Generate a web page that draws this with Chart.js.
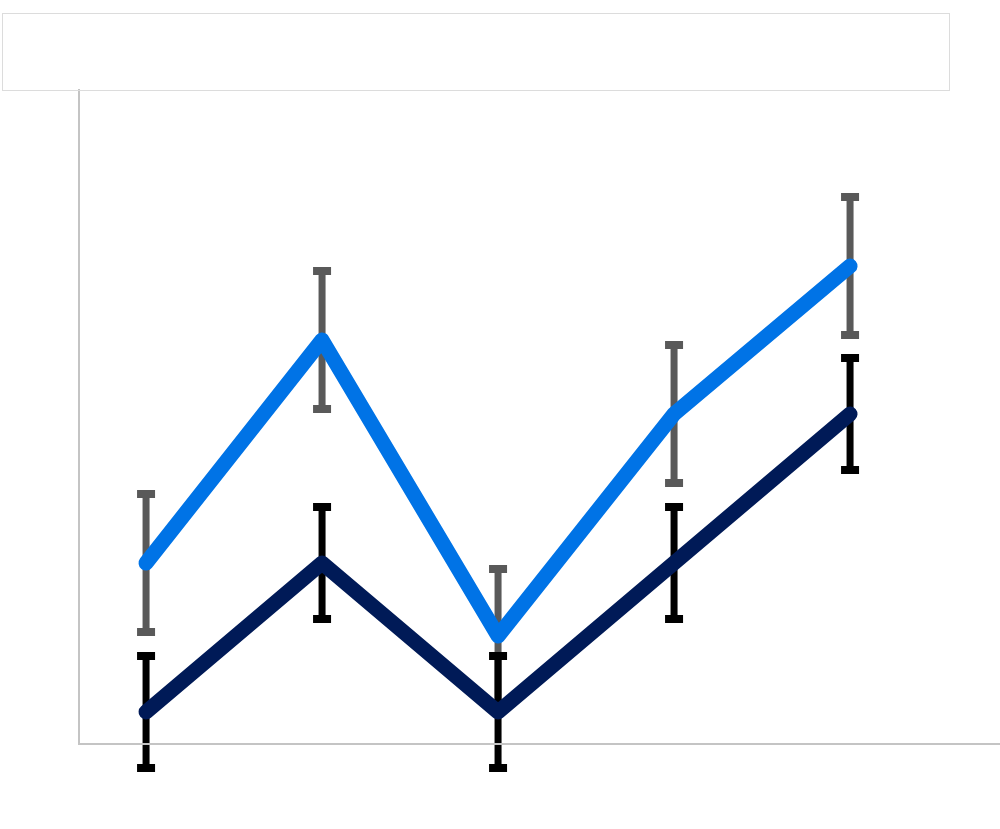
<!DOCTYPE html>
<html>
<head>
<meta charset="utf-8">
<script src="https://cdn.jsdelivr.net/npm/chart.js@4.4.1/dist/chart.umd.min.js"></script>
<style>
    body { margin: 0; background: #fff; }
    #wrap { position: relative; width: 1000px; height: 829px; }
    #titleBox {
        position: absolute;
        left: 2px; top: 13px;
        width: 948px; height: 78px;
        border: 1px solid #dcdcdc;
        box-sizing: border-box;
    }
</style>
</head>
<body>
<div id="wrap">
    <canvas id="chart" width="1000" height="829"></canvas>
    <div id="titleBox"></div>
</div>
<script>
// Data (arbitrary units, no tick labels shown)
const categories = ['1', '2', '3', '4', '5'];
const upperValues = [18.1, 40.4, 10.8, 33.0, 47.8];
const upperErrors = [6.9, 6.9, 6.7, 6.9, 6.9];
const lowerValues = [3.2, 18.1, 3.2, 18.1, 33.0];
const lowerErrors = [5.6, 5.6, 5.6, 5.6, 5.6];

function toPoints(values) {
    return values.map((v, i) => ({ x: i, y: v }));
}

// Error bars drawn before the axes so the axis line sits over them
const errorBars = {
    id: 'errorBars',
    beforeDraw(chart) {
        const ctx = chart.ctx;
        const xs = chart.scales.x;
        const ys = chart.scales.y;
        const sets = [
            { values: upperValues, errors: upperErrors, color: '#595959' },
            { values: lowerValues, errors: lowerErrors, color: '#000000' }
        ];
        ctx.save();
        sets.forEach(s => {
            ctx.fillStyle = s.color;
            s.values.forEach((v, i) => {
                const px = xs.getPixelForValue(i);
                const top = ys.getPixelForValue(v + s.errors[i]);
                const bot = ys.getPixelForValue(v - s.errors[i]);
                ctx.fillRect(px - 3.5, top, 7, bot - top);
                ctx.fillRect(px - 9, top - 4, 18, 8);
                ctx.fillRect(px - 9, bot - 4, 18, 8);
            });
        });
        ctx.restore();
    }
};

document.addEventListener('DOMContentLoaded', function() {
    new Chart(document.getElementById('chart'), {
        type: 'line',
        data: {
            labels: categories,
            datasets: [
                {
                    label: 'Lower',
                    data: toPoints(lowerValues),
                    borderColor: '#001a57',
                    borderWidth: 15,
                    borderCapStyle: 'round',
                    borderJoinStyle: 'round',
                    pointRadius: 0,
                    fill: false,
                    clip: false
                },
                {
                    label: 'Upper',
                    data: toPoints(upperValues),
                    borderColor: '#0073e6',
                    borderWidth: 15,
                    borderCapStyle: 'round',
                    borderJoinStyle: 'round',
                    pointRadius: 0,
                    fill: false,
                    clip: false
                }
            ]
        },
        options: {
            responsive: false,
            animation: false,
            layout: {
                padding: { left: 71, top: 90, right: 0, bottom: 77 }
            },
            plugins: {
                legend: { display: false },
                title: { display: false },
                tooltip: { enabled: false }
            },
            scales: {
                x: {
                    type: 'linear',
                    min: -0.381,
                    max: 4.852,
                    grid: { display: false },
                    ticks: { display: false },
                    border: { color: '#c4c4c4', width: 2 }
                },
                y: {
                    min: 0,
                    max: 65.4,
                    grid: { display: false },
                    ticks: { display: false },
                    border: { color: '#c4c4c4', width: 2 }
                }
            }
        },
        plugins: [errorBars]
    });
});
</script>
</body>
</html>
